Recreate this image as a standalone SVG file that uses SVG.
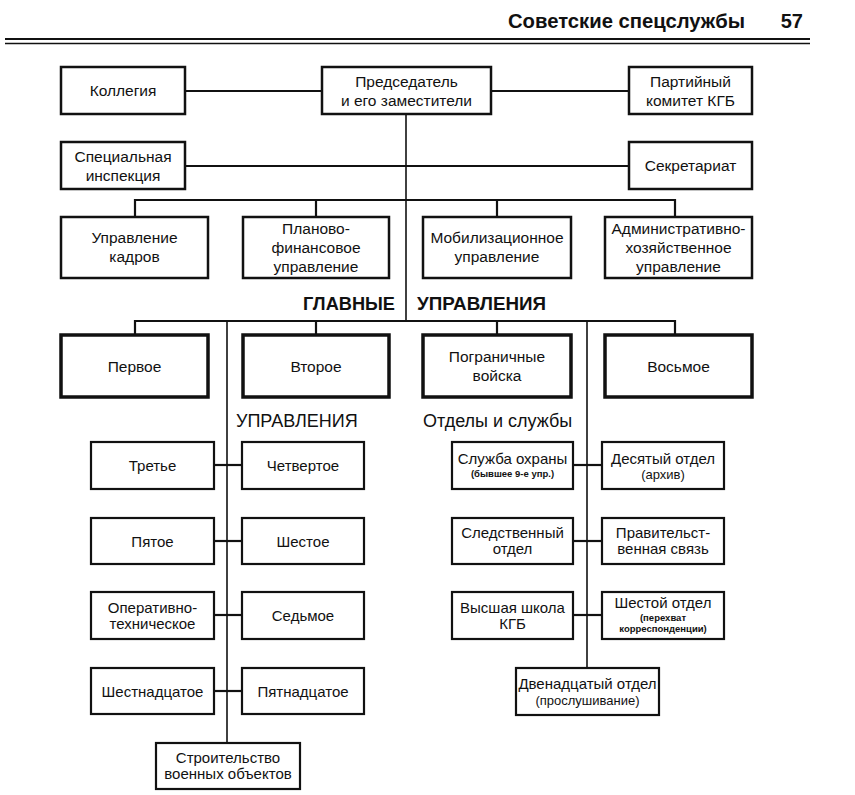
<svg xmlns="http://www.w3.org/2000/svg" width="855" height="795" viewBox="0 0 855 795">
<style>
text{font-family:"Liberation Sans",Arial,sans-serif;fill:#111;text-anchor:middle}
.t{font-size:15.5px}
.l{font-size:15px}
.s{font-size:9.5px;font-weight:bold}
.m{font-size:13px}
.b{fill:#fff;stroke:#111;stroke-width:2.5}
.bb{fill:#fff;stroke:#111;stroke-width:3.5}
.lb{fill:#fff;stroke:#111;stroke-width:2.2}
.c{fill:none;stroke:#111;stroke-width:2.2}
.tr{fill:none;stroke:#111;stroke-width:1.6}
</style>
<rect width="855" height="795" fill="#fff"/>
<g id="header">
<text x="745" y="28" style="font-size:20px;font-weight:bold;text-anchor:end" textLength="237" lengthAdjust="spacingAndGlyphs">Советские спецслужбы</text>
<text x="803" y="28" style="font-size:20px;font-weight:bold;text-anchor:end">57</text>
<line x1="5" y1="39" x2="810" y2="39" stroke="#111" stroke-width="2.2"/>
<line x1="5" y1="43.5" x2="810" y2="43.5" stroke="#111" stroke-width="1.6"/>
</g>
<g id="connectors">
<line class="tr" x1="406" y1="114" x2="406" y2="321"/>
<line class="c" x1="185" y1="91" x2="322" y2="91"/>
<line class="c" x1="491" y1="91" x2="629" y2="91"/>
<line class="c" x1="185" y1="166" x2="629" y2="166"/>
<polyline class="c" points="135,217 135,200 675,200 675,217"/>
<line class="c" x1="316" y1="200" x2="316" y2="217"/>
<line class="c" x1="497" y1="200" x2="497" y2="217"/>
<polyline class="c" points="135,335 135,321 675,321 675,335"/>
<line class="c" x1="316" y1="321" x2="316" y2="335"/>
<line class="c" x1="497" y1="321" x2="497" y2="335"/>
<line class="tr" x1="227" y1="321" x2="227" y2="743"/>
<line class="tr" x1="587" y1="321" x2="587" y2="668"/>
<line class="c" x1="214" y1="465" x2="242" y2="465"/>
<line class="c" x1="214" y1="541" x2="242" y2="541"/>
<line class="c" x1="214" y1="615" x2="242" y2="615"/>
<line class="c" x1="214" y1="691" x2="242" y2="691"/>
<line class="c" x1="573" y1="465" x2="602" y2="465"/>
<line class="c" x1="573" y1="541" x2="602" y2="541"/>
<line class="c" x1="573" y1="615" x2="602" y2="615"/>
</g>
<g id="kollegia"><rect class="b" x="61" y="67" width="124" height="47"/><text class="t" x="123" y="96">Коллегия</text></g>
<g id="predsedatel"><rect class="b" x="322" y="67" width="169" height="47"/><text class="t" x="406.5" y="86.5">Председатель</text><text class="t" x="406.5" y="105.5">и его заместители</text></g>
<g id="partkom"><rect class="b" x="629" y="67" width="123" height="47"/><text class="t" x="690.5" y="86.5">Партийный</text><text class="t" x="690.5" y="105.5">комитет КГБ</text></g>
<g id="specinsp"><rect class="b" x="61" y="142" width="124" height="47"/><text class="t" x="123" y="161.5">Специальная</text><text class="t" x="123" y="180.5">инспекция</text></g>
<g id="sekretariat"><rect class="b" x="629" y="142" width="123" height="47"/><text class="t" x="690.5" y="171">Секретариат</text></g>
<g id="kadry"><rect class="b" x="61" y="217" width="147" height="61"/><text class="t" x="134.5" y="243">Управление</text><text class="t" x="134.5" y="262">кадров</text></g>
<g id="planfin"><rect class="b" x="243" y="217" width="146" height="61"/><text class="t" x="316" y="233.5">Планово-</text><text class="t" x="316" y="252.5">финансовое</text><text class="t" x="316" y="271.5">управление</text></g>
<g id="mobil"><rect class="b" x="423" y="217" width="148" height="61"/><text class="t" x="497" y="243">Мобилизационное</text><text class="t" x="497" y="262">управление</text></g>
<g id="adminhoz"><rect class="b" x="605" y="217" width="147" height="61"/><text class="t" x="678.5" y="233.5">Административно-</text><text class="t" x="678.5" y="252.5">хозяйственное</text><text class="t" x="678.5" y="271.5">управление</text></g>
<g id="glavnye">
<text x="395" y="310" style="font-size:18px;font-weight:bold;text-anchor:end" textLength="92" lengthAdjust="spacingAndGlyphs">ГЛАВНЫЕ</text>
<text x="417" y="310" style="font-size:18px;font-weight:bold;text-anchor:start" textLength="129" lengthAdjust="spacingAndGlyphs">УПРАВЛЕНИЯ</text>
</g>
<g id="pervoe"><rect class="bb" x="61" y="335" width="147" height="62"/><text class="t" x="134.5" y="371.5">Первое</text></g>
<g id="vtoroe"><rect class="bb" x="243" y="335" width="146" height="62"/><text class="t" x="316" y="371.5">Второе</text></g>
<g id="pogran"><rect class="bb" x="423" y="335" width="148" height="62"/><text class="t" x="497" y="362">Пограничные</text><text class="t" x="497" y="381">войска</text></g>
<g id="vosmoe"><rect class="bb" x="605" y="335" width="147" height="62"/><text class="t" x="678.5" y="371.5">Восьмое</text></g>
<text x="236" y="427" style="font-size:18px;text-anchor:start">УПРАВЛЕНИЯ</text>
<text x="423" y="427" style="font-size:18px;text-anchor:start">Отделы и службы</text>
<g id="trete"><rect class="lb" x="91" y="442" width="123" height="47"/><text class="l" x="152.5" y="471">Третье</text></g>
<g id="chetvertoe"><rect class="lb" x="242" y="442" width="122" height="47"/><text class="l" x="303" y="471">Четвертое</text></g>
<g id="pyatoe"><rect class="lb" x="91" y="518" width="123" height="46"/><text class="l" x="152.5" y="546.5">Пятое</text></g>
<g id="shestoe"><rect class="lb" x="242" y="518" width="122" height="46"/><text class="l" x="303" y="546.5">Шестое</text></g>
<g id="opertech"><rect class="lb" x="91" y="592" width="123" height="47"/><text class="l" x="152.5" y="612.5">Оперативно-</text><text class="l" x="152.5" y="628.5">техническое</text></g>
<g id="sedmoe"><rect class="lb" x="242" y="592" width="122" height="47"/><text class="l" x="303" y="621">Седьмое</text></g>
<g id="shestnadc"><rect class="lb" x="91" y="668" width="123" height="46"/><text class="l" x="152.5" y="696.5">Шестнадцатое</text></g>
<g id="pyatnadc"><rect class="lb" x="242" y="668" width="122" height="46"/><text class="l" x="303" y="696.5">Пятнадцатое</text></g>
<g id="stroit"><rect class="lb" x="156" y="743" width="144" height="46"/><text class="l" x="228" y="762.5">Строительство</text><text class="l" x="228" y="778.5">военных объектов</text></g>
<g id="ohrana"><rect class="lb" x="452" y="442" width="121" height="47"/><text class="l" x="512.5" y="464">Служба охраны</text><text class="s" x="512.5" y="477">(бывшее 9-е упр.)</text></g>
<g id="desyatyi"><rect class="lb" x="602" y="442" width="122" height="47"/><text class="l" x="663" y="464">Десятый отдел</text><text class="m" x="663" y="479">(архив)</text></g>
<g id="sledstv"><rect class="lb" x="452" y="518" width="121" height="46"/><text class="l" x="512.5" y="537.5">Следственный</text><text class="l" x="512.5" y="553.5">отдел</text></g>
<g id="pravsvyaz"><rect class="lb" x="602" y="518" width="122" height="46"/><text class="l" x="663" y="537.5">Правительст-</text><text class="l" x="663" y="553.5">венная связь</text></g>
<g id="vshkola"><rect class="lb" x="452" y="592" width="121" height="47"/><text class="l" x="512.5" y="613">Высшая школа</text><text class="l" x="512.5" y="629">КГБ</text></g>
<g id="shestoi"><rect class="lb" x="602" y="592" width="122" height="47"/><text class="l" x="663" y="608">Шестой отдел</text><text class="s" x="663" y="620.5">(перехват</text><text class="s" x="663" y="632">корреспонденции)</text></g>
<g id="dvenadc"><rect class="lb" x="516" y="668" width="143" height="47"/><text class="l" x="587.5" y="689">Двенадцатый отдел</text><text class="m" x="587.5" y="704.5">(прослушивание)</text></g>
</svg>
